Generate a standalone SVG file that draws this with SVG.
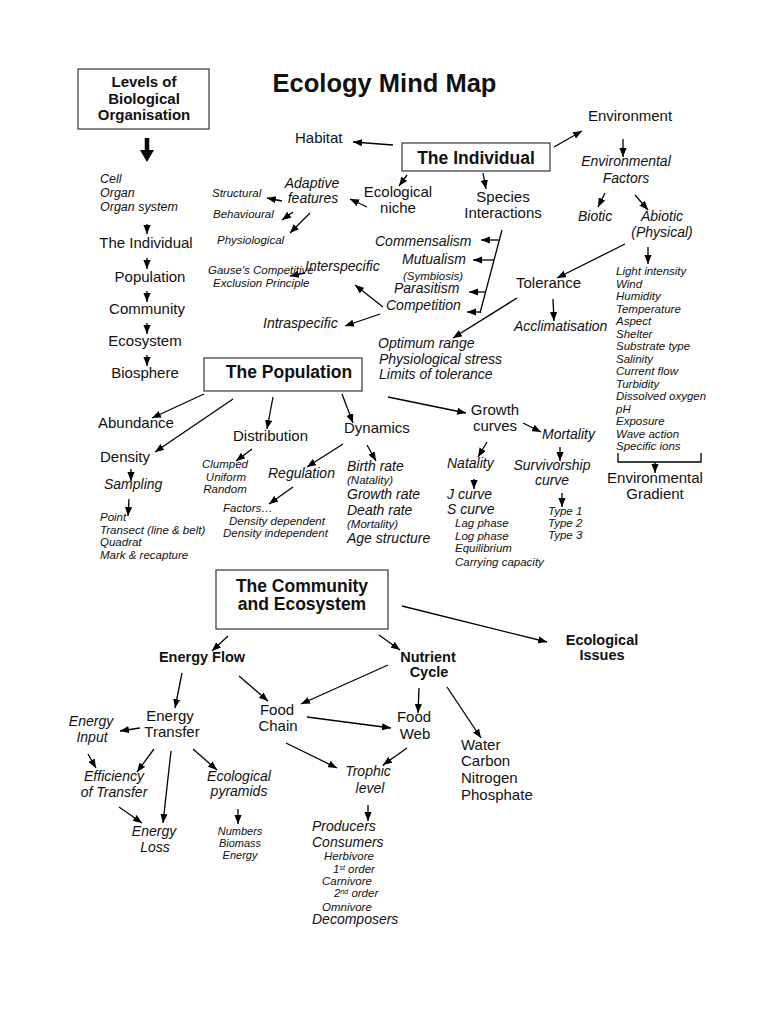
<svg xmlns="http://www.w3.org/2000/svg" width="768" height="1024" viewBox="0 0 768 1024">
<style>
text{font-family:"Liberation Sans",Arial,sans-serif;fill:#111}
.n{font-size:15px}
.i{font-size:14px;font-style:italic}
.s{font-size:11.5px;font-style:italic}
.b{font-weight:bold}
.c{text-anchor:middle}
.box{fill:#fff;stroke:#444;stroke-width:1.3}
.ln{stroke:#000;stroke-width:1.3;fill:none;marker-end:url(#ah)}
.pl{stroke:#000;stroke-width:1.3;fill:none}
</style>
<defs>
<marker id="ah" viewBox="0 0 10 8" refX="10" refY="4" markerWidth="9" markerHeight="7.2" markerUnits="userSpaceOnUse" orient="auto"><path d="M0,0 L10,4 L0,8 z" fill="#000"/></marker>
</defs>
<rect width="768" height="1024" fill="#fff"/>

<text class="b c" x="384.5" y="92" style="font-size:25.5px">Ecology Mind Map</text>

<g id="levels">
<rect class="box" x="78" y="69" width="131" height="60"/>
<text class="b c" x="144" y="87" style="font-size:15px">Levels of</text>
<text class="b c" x="144" y="104" style="font-size:15px">Biological</text>
<text class="b c" x="144" y="120" style="font-size:15px">Organisation</text>
</g>
<g id="levels-list">
<text class="s" x="100" y="183" style="font-size:12.5px">Cell</text>
<text class="s" x="100" y="197" style="font-size:12.5px">Organ</text>
<text class="s" x="100" y="211" style="font-size:12.5px">Organ system</text>
<text class="n c" x="146" y="248">The Individual</text>
<text class="n c" x="150" y="282">Population</text>
<text class="n c" x="147" y="314">Community</text>
<text class="n c" x="145" y="346">Ecosystem</text>
<text class="n c" x="145" y="378">Biosphere</text>
</g>

<g id="individual">
<rect class="box" x="402" y="143" width="148" height="28"/>
<text class="b c" x="476" y="164" style="font-size:17.5px">The Individual</text>
</g>
<g id="habitat"><text class="n" x="295" y="143">Habitat</text></g>
<g id="niche"><text class="n c" x="398" y="197">Ecological</text><text class="n c" x="398" y="213">niche</text></g>
<g id="species"><text class="n c" x="503" y="202">Species</text><text class="n c" x="503" y="218">Interactions</text></g>
<g id="adaptive"><text class="i c" x="312" y="188">Adaptive</text><text class="i c" x="313" y="203">features</text></g>
<g id="structural"><text class="s" x="212" y="197">Structural</text></g>
<g id="behavioural"><text class="s" x="213" y="218">Behavioural</text></g>
<g id="physiological"><text class="s" x="217" y="244">Physiological</text></g>
<g id="gause"><text class="s" x="208" y="274">Gause's Competitive</text><text class="s" x="213" y="287">Exclusion Principle</text></g>
<g id="interspecific"><text class="i" x="305" y="271">Interspecific</text></g>
<g id="intraspecific"><text class="i" x="263" y="328">Intraspecific</text></g>
<g id="interactions">
<text class="i" x="375" y="246">Commensalism</text>
<text class="i" x="402" y="264">Mutualism</text>
<text class="s" x="403" y="280">(Symbiosis)</text>
<text class="i" x="394" y="293">Parasitism</text>
<text class="i" x="386" y="310">Competition</text>
</g>
<g id="environment"><text class="n c" x="630" y="121">Environment</text></g>
<g id="env-factors"><text class="i c" x="626" y="166">Environmental</text><text class="i c" x="626" y="183">Factors</text></g>
<g id="biotic"><text class="i" x="578" y="221">Biotic</text></g>
<g id="abiotic"><text class="i c" x="662" y="221">Abiotic</text><text class="i c" x="662" y="237">(Physical)</text></g>
<g id="abiotic-list">
<text class="s" x="616" y="275">Light intensity</text>
<text class="s" x="616" y="287.5">Wind</text>
<text class="s" x="616" y="300">Humidity</text>
<text class="s" x="616" y="312.5">Temperature</text>
<text class="s" x="616" y="325">Aspect</text>
<text class="s" x="616" y="337.5">Shelter</text>
<text class="s" x="616" y="350">Substrate type</text>
<text class="s" x="616" y="362.5">Salinity</text>
<text class="s" x="616" y="375">Current flow</text>
<text class="s" x="616" y="387.5">Turbidity</text>
<text class="s" x="616" y="400">Dissolved oxygen</text>
<text class="s" x="616" y="412.5">pH</text>
<text class="s" x="616" y="425">Exposure</text>
<text class="s" x="616" y="437.5">Wave action</text>
<text class="s" x="616" y="450">Specific ions</text>
</g>
<g id="env-gradient"><text class="n c" x="655" y="483">Environmental</text><text class="n c" x="655" y="499">Gradient</text></g>
<g id="tolerance"><text class="n" x="516" y="288">Tolerance</text></g>
<g id="acclimatisation"><text class="i" x="514" y="331">Acclimatisation</text></g>
<g id="optimum">
<text class="i" x="378" y="348">Optimum range</text>
<text class="i" x="379" y="364">Physiological stress</text>
<text class="i" x="379" y="379">Limits of tolerance</text>
</g>

<g id="population">
<rect class="box" x="204" y="358" width="158" height="33"/>
<text class="b c" x="289" y="378" style="font-size:17.5px">The Population</text>
</g>
<g id="abundance"><text class="n" x="98" y="428">Abundance</text></g>
<g id="density"><text class="n" x="100" y="462">Density</text></g>
<g id="sampling"><text class="i" x="104" y="489">Sampling</text></g>
<g id="sampling-list">
<text class="s" x="100" y="521">Point</text>
<text class="s" x="100" y="534">Transect (line &amp; belt)</text>
<text class="s" x="100" y="546">Quadrat</text>
<text class="s" x="100" y="559">Mark &amp; recapture</text>
</g>
<g id="distribution"><text class="n" x="233" y="441">Distribution</text></g>
<g id="distribution-list">
<text class="s c" x="225" y="468">Clumped</text>
<text class="s c" x="226" y="481">Uniform</text>
<text class="s c" x="225" y="493">Random</text>
</g>
<g id="regulation"><text class="i" x="268" y="478">Regulation</text></g>
<g id="factors">
<text class="s" x="223" y="512">Factors…</text>
<text class="s" x="229" y="525">Density dependent</text>
<text class="s" x="223" y="537">Density independent</text>
</g>
<g id="dynamics"><text class="n" x="344" y="433">Dynamics</text></g>
<g id="dynamics-list">
<text class="i" x="347" y="471">Birth rate</text>
<text class="s" x="347" y="484">(Natality)</text>
<text class="i" x="347" y="499">Growth rate</text>
<text class="i" x="347" y="515">Death rate</text>
<text class="s" x="347" y="528">(Mortality)</text>
<text class="i" x="347" y="543">Age structure</text>
</g>
<g id="growth"><text class="n c" x="495" y="415">Growth</text><text class="n c" x="495" y="431">curves</text></g>
<g id="mortality"><text class="i" x="542" y="439">Mortality</text></g>
<g id="natality"><text class="i" x="447" y="468">Natality</text></g>
<g id="curves-list">
<text class="i" x="447" y="499">J curve</text>
<text class="i" x="447" y="514">S curve</text>
<text class="s" x="455" y="527">Lag phase</text>
<text class="s" x="455" y="540">Log phase</text>
<text class="s" x="455" y="552">Equilibrium</text>
<text class="s" x="455" y="566">Carrying capacity</text>
</g>
<g id="survivorship"><text class="i c" x="552" y="470">Survivorship</text><text class="i c" x="552" y="485">curve</text></g>
<g id="types">
<text class="s" x="548" y="515">Type 1</text>
<text class="s" x="548" y="527">Type 2</text>
<text class="s" x="548" y="539">Type 3</text>
</g>

<g id="community">
<rect class="box" x="216" y="570" width="172" height="59"/>
<text class="b c" x="302" y="592" style="font-size:17.5px">The Community</text>
<text class="b c" x="302" y="610" style="font-size:17.5px">and Ecosystem</text>
</g>
<g id="issues"><text class="b c" x="602" y="645" style="font-size:14.5px">Ecological</text><text class="b c" x="602" y="660" style="font-size:14.5px">Issues</text></g>
<g id="energy-flow"><text class="b c" x="202" y="662" style="font-size:14.5px">Energy Flow</text></g>
<g id="nutrient"><text class="b c" x="428" y="662" style="font-size:14.5px">Nutrient</text><text class="b c" x="429" y="677" style="font-size:14.5px">Cycle</text></g>
<g id="energy-transfer"><text class="n c" x="170" y="721">Energy</text><text class="n c" x="172" y="737">Transfer</text></g>
<g id="energy-input"><text class="i c" x="91" y="726">Energy</text><text class="i c" x="92" y="742">Input</text></g>
<g id="efficiency"><text class="i c" x="114" y="781">Efficiency</text><text class="i c" x="114" y="797">of Transfer</text></g>
<g id="energy-loss"><text class="i c" x="154" y="836">Energy</text><text class="i c" x="155" y="852">Loss</text></g>
<g id="pyramids"><text class="i c" x="239" y="781">Ecological</text><text class="i c" x="239" y="796">pyramids</text></g>
<g id="pyramid-types">
<text class="s c" x="240" y="835" style="font-size:11px">Numbers</text>
<text class="s c" x="240" y="847" style="font-size:11px">Biomass</text>
<text class="s c" x="240" y="859" style="font-size:11px">Energy</text>
</g>
<g id="food-chain"><text class="n c" x="277" y="715">Food</text><text class="n c" x="278" y="731">Chain</text></g>
<g id="food-web"><text class="n c" x="414" y="722">Food</text><text class="n c" x="415" y="739">Web</text></g>
<g id="cycles">
<text class="n" x="461" y="750">Water</text>
<text class="n" x="461" y="766">Carbon</text>
<text class="n" x="461" y="783">Nitrogen</text>
<text class="n" x="461" y="800">Phosphate</text>
</g>
<g id="trophic"><text class="i c" x="368" y="776">Trophic</text><text class="i c" x="370" y="793">level</text></g>
<g id="trophic-list">
<text class="i" x="312" y="831">Producers</text>
<text class="i" x="312" y="847">Consumers</text>
<text class="s" x="324" y="860">Herbivore</text>
<text class="s" x="333" y="873">1<tspan baseline-shift="super" style="font-size:7px">st</tspan> order</text>
<text class="s" x="322" y="885">Carnivore</text>
<text class="s" x="334" y="897">2<tspan baseline-shift="super" style="font-size:7px">nd</tspan> order</text>
<text class="s" x="322" y="911">Omnivore</text>
<text class="i" x="312" y="924">Decomposers</text>
</g>

<g id="connectors">
<path d="M147,138 V151" stroke="#000" stroke-width="4.5" fill="none"/>
<path d="M140,150 L154,150 L147,162 z" fill="#000"/>
<line class="ln" x1="147" y1="224" x2="147" y2="234"/>
<line class="ln" x1="147" y1="258" x2="147" y2="269"/>
<line class="ln" x1="147" y1="291" x2="147" y2="302"/>
<line class="ln" x1="147" y1="323" x2="147" y2="334"/>
<line class="ln" x1="147" y1="355" x2="147" y2="366"/>
<line class="ln" x1="393" y1="145" x2="353" y2="142"/>
<line class="ln" x1="407" y1="175" x2="399" y2="186"/>
<line class="ln" x1="483" y1="173" x2="486" y2="189"/>
<line class="ln" x1="554" y1="147" x2="582" y2="131"/>
<line class="ln" x1="623" y1="139" x2="623" y2="157"/>
<line class="ln" x1="605" y1="193" x2="598" y2="207"/>
<line class="ln" x1="635" y1="195" x2="648" y2="210"/>
<line class="ln" x1="648" y1="247" x2="648" y2="264"/>
<line class="ln" x1="625" y1="244" x2="557" y2="278"/>
<line class="ln" x1="553" y1="299" x2="554" y2="321"/>
<line class="ln" x1="517" y1="298" x2="453" y2="338"/>
<line class="ln" x1="367" y1="207" x2="350" y2="199"/>
<line class="ln" x1="282" y1="201" x2="267" y2="198"/>
<line class="ln" x1="293" y1="212" x2="282" y2="220"/>
<line class="ln" x1="310" y1="213" x2="290" y2="233"/>
<line class="pl" x1="502" y1="230" x2="480" y2="313"/>
<line class="ln" x1="499" y1="240" x2="481" y2="240"/>
<line class="ln" x1="494" y1="260" x2="473" y2="260"/>
<line class="ln" x1="486" y1="292" x2="469" y2="292"/>
<line class="ln" x1="481" y1="312" x2="467" y2="312"/>
<line class="ln" x1="383" y1="307" x2="355" y2="285"/>
<line class="ln" x1="380" y1="314" x2="345" y2="326"/>
<line class="ln" x1="305" y1="273" x2="290" y2="276"/>
<path class="pl" d="M618,453 V462 H701 V453"/>
<line class="ln" x1="655" y1="462" x2="655" y2="473"/>
<line class="ln" x1="204" y1="394" x2="152" y2="418"/>
<line class="ln" x1="233" y1="399" x2="155" y2="452"/>
<line class="ln" x1="273" y1="397" x2="267" y2="429"/>
<line class="ln" x1="342" y1="394" x2="353" y2="423"/>
<line class="ln" x1="388" y1="397" x2="466" y2="413"/>
<line class="ln" x1="131" y1="469" x2="131" y2="481"/>
<line class="ln" x1="129" y1="499" x2="128" y2="516"/>
<line class="ln" x1="252" y1="449" x2="236" y2="461"/>
<line class="ln" x1="343" y1="444" x2="307" y2="467"/>
<line class="ln" x1="293" y1="487" x2="269" y2="504"/>
<line class="ln" x1="367" y1="445" x2="376" y2="461"/>
<line class="ln" x1="523" y1="423" x2="541" y2="432"/>
<line class="ln" x1="487" y1="442" x2="478" y2="457"/>
<line class="ln" x1="474" y1="479" x2="474" y2="489"/>
<line class="ln" x1="560" y1="447" x2="560" y2="461"/>
<line class="ln" x1="562" y1="493" x2="562" y2="507"/>
<line class="ln" x1="228" y1="636" x2="212" y2="651"/>
<line class="ln" x1="379" y1="635" x2="400" y2="650"/>
<line class="ln" x1="402" y1="606" x2="547" y2="642"/>
<line class="ln" x1="182" y1="673" x2="175" y2="708"/>
<line class="ln" x1="239" y1="676" x2="268" y2="701"/>
<line class="ln" x1="140" y1="728" x2="120" y2="731"/>
<line class="ln" x1="88" y1="754" x2="96" y2="768"/>
<line class="ln" x1="154" y1="749" x2="137" y2="772"/>
<line class="ln" x1="171" y1="751" x2="163" y2="823"/>
<line class="ln" x1="119" y1="807" x2="142" y2="823"/>
<line class="ln" x1="193" y1="749" x2="217" y2="770"/>
<line class="ln" x1="238" y1="809" x2="238" y2="824"/>
<line class="ln" x1="388" y1="665" x2="301" y2="704"/>
<line class="ln" x1="419" y1="688" x2="418" y2="713"/>
<line class="ln" x1="447" y1="687" x2="481" y2="738"/>
<line class="ln" x1="307" y1="717" x2="391" y2="728"/>
<line class="ln" x1="286" y1="743" x2="337" y2="768"/>
<line class="ln" x1="407" y1="748" x2="383" y2="765"/>
<line class="ln" x1="368" y1="805" x2="368" y2="821"/>
</g>
</svg>
